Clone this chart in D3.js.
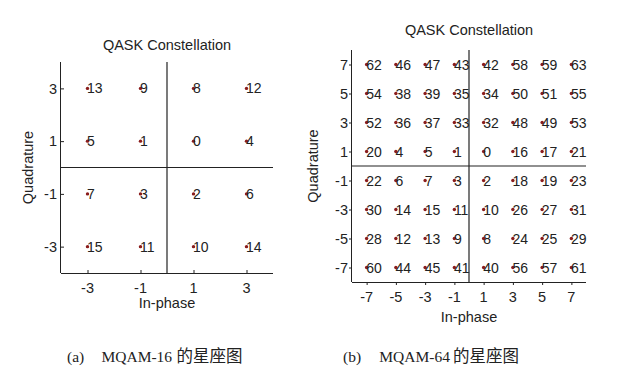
<!DOCTYPE html>
<html><head><meta charset="utf-8">
<script src="https://cdn.jsdelivr.net/npm/d3@7"></script>
<style>
html,body{margin:0;padding:0;background:#fff;}
svg{display:block;}
text{font-family:"Liberation Sans",Arial,sans-serif;fill:#222;}
</style></head>
<body>
<svg id="c" width="623" height="369"></svg>
<script>
// ---- data ----
const levels16 = [-3, -1, 1, 3];            // I and Q levels, MQAM-16
const rowsQ16 = [3, 1, -1, -3];             // Q of each label row
const labels16 = [
  [13, 9, 8, 12],
  [5, 1, 0, 4],
  [7, 3, 2, 6],
  [15, 11, 10, 14]
];
const levels64 = [-7, -5, -3, -1, 1, 3, 5, 7];
const rowsQ64 = [7, 5, 3, 1, -1, -3, -5, -7];
const labels64 = [
  [62, 46, 47, 43, 42, 58, 59, 63],
  [54, 38, 39, 35, 34, 50, 51, 55],
  [52, 36, 37, 33, 32, 48, 49, 53],
  [20, 4, 5, 1, 0, 16, 17, 21],
  [22, 6, 7, 3, 2, 18, 19, 23],
  [30, 14, 15, 11, 10, 26, 27, 31],
  [28, 12, 13, 9, 8, 24, 25, 29],
  [60, 44, 45, 41, 40, 56, 57, 61]
];
const titleText = "QASK Constellation";
const xLabel = "In-phase";
const yLabel = "Quadrature";
const captions = [
  {tag: "(a)", name: "MQAM-16", zh: "的星座图"},
  {tag: "(b)", name: "MQAM-64", zh: "的星座图"}
];

const svg = d3.select("#c");
const FS = 14.5;

function panel(cfg) {
  const {levels, rowsQ, labels, lim, x0, x1, y0, y1, tickIn, titleY, xlabY, ylabX, xtickY, labFS} = cfg;
  const x = d3.scaleLinear().domain([-lim, lim]).range([x0, x1]);
  const y = d3.scaleLinear().domain([-lim, lim]).range([y1, y0]);
  const g = svg.append("g");
  const tickLen = 3;

  const xAxis = d3.axisBottom(x).tickValues(levels).tickSize(tickIn ? -tickLen : tickLen).tickFormat("");
  const yAxis = d3.axisLeft(y).tickValues(levels).tickSize(tickIn ? -tickLen : tickLen).tickFormat("");
  g.append("g").attr("transform", `translate(0,${y1})`).call(xAxis)
    .call(s => s.select(".domain").attr("d", `M${x0},0.5H${x1}`).attr("stroke", "#222"))
    .call(s => s.selectAll("line").attr("stroke", "#222"));
  g.append("g").attr("transform", `translate(${x0},0)`).call(yAxis)
    .call(s => s.select(".domain").attr("d", `M-0.5,${y0}V${y1}`).attr("stroke", "#222"))
    .call(s => s.selectAll("line").attr("stroke", "#222"));

  g.selectAll(".xt").data(levels).join("text")
    .attr("x", d => x(d)).attr("y", xtickY).attr("text-anchor", "middle")
    .attr("font-size", FS).text(d => d);
  g.selectAll(".yt").data(levels).join("text")
    .attr("x", x0 - 4).attr("y", d => y(d)).attr("dy", "0.36em").attr("text-anchor", "end")
    .attr("font-size", FS).text(d => d);

  g.append("line").attr("x1", x(0)).attr("x2", x(0)).attr("y1", y0).attr("y2", y1)
    .attr("stroke", "#222").attr("stroke-width", 1.2);
  g.append("line").attr("x1", x0).attr("x2", x1).attr("y1", y(0)).attr("y2", y(0))
    .attr("stroke", "#222").attr("stroke-width", 1.2);

  const pts = [];
  labels.forEach((row, i) => row.forEach((lab, j) => pts.push({i: levels[j], q: rowsQ[i], lab})));
  g.selectAll(".pt").data(pts).join("circle")
    .attr("cx", d => x(d.i)).attr("cy", d => y(d.q)).attr("r", 1.7).attr("fill", "#8a1c1c");
  g.selectAll(".lb").data(pts).join("text")
    .attr("x", d => x(d.i) - 0.5).attr("y", d => y(d.q)).attr("dy", "0.36em")
    .attr("font-size", labFS).attr("fill", "#333").text(d => d.lab);

  g.append("text").attr("x", (x0 + x1) / 2).attr("y", titleY).attr("text-anchor", "middle")
    .attr("font-size", FS).text(titleText);
  g.append("text").attr("x", (x0 + x1) / 2).attr("y", xlabY).attr("text-anchor", "middle")
    .attr("font-size", FS).text(xLabel);
  g.append("text").attr("transform", `translate(${ylabX},${(y0 + y1) / 2}) rotate(-90)`)
    .attr("text-anchor", "middle").attr("font-size", FS).text(yLabel);
}

panel({levels: levels16, rowsQ: rowsQ16, labels: labels16, lim: 4,
  x0: 61, x1: 273, y0: 62, y1: 273, tickIn: true,
  titleY: 50, xlabY: 308, ylabX: 33, xtickY: 293, labFS: 14});
panel({levels: levels64, rowsQ: rowsQ64, labels: labels64, lim: 8,
  x0: 352, x1: 586, y0: 50, y1: 282, tickIn: false,
  titleY: 35, xlabY: 321.5, ylabX: 318, xtickY: 302, labFS: 14});

const capPos = [{tagX: 67, nameX: 101.5, zhX: 176.5}, {tagX: 343, nameX: 379.3, zhX: 453}];
captions.forEach((c, k) => {
  const p = capPos[k];
  const serif = "'Liberation Serif','Times New Roman',serif";
  svg.append("text").attr("x", p.tagX).attr("y", 362).style("font-family", serif)
    .attr("font-size", 15.5).text(c.tag);
  svg.append("text").attr("x", p.nameX).attr("y", 362).style("font-family", serif)
    .attr("font-size", 15.5).text(c.name);
  svg.append("text").attr("x", p.zhX).attr("y", 362).style("font-family", "'Noto Sans CJK SC',sans-serif")
    .attr("font-size", 16.5).text(c.zh);
});
</script>
</body></html>
